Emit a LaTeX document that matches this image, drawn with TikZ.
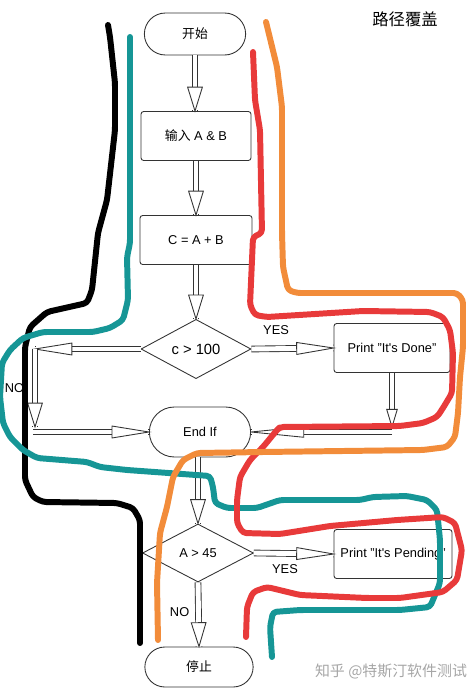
\documentclass[tikz,border=0pt]{standalone}
\usepackage{fontspec}
\setmainfont{Liberation Sans}
\newfontfamily\cjk{Noto Sans CJK SC}
\usetikzlibrary{positioning,shapes.geometric,shapes.misc,decorations.markings}

\definecolor{penteal}{RGB}{22,150,150}
\definecolor{penred}{RGB}{232,58,58}
\definecolor{penorange}{RGB}{242,140,58}

\begin{document}
\begin{tikzpicture}[
  x=0.02cm, y=-0.02cm,
  font=\fontsize{7.3}{9}\selectfont,
  box/.style={draw=black!80, line width=0.5pt, rounded corners=1.5pt,
              minimum width=2.2cm, minimum height=0.98cm, inner sep=1pt},
  term/.style={draw=black!80, line width=0.5pt, rounded rectangle,
               minimum width=2.26cm, minimum height=0.84cm},
  cond/.style={draw=black!80, line width=0.5pt, diamond, inner sep=0pt,
               minimum width=2.2cm, minimum height=1.12cm},
  blk/.style 2 args={draw=black!80, line width=0.5pt, double,
    double distance=2.8pt,
    postaction={decorate, decoration={markings, mark=at position 1 with
      {\fill[white] (-#1,-2.3pt) rectangle (-0.4pt,2.3pt);
       \draw[black!80, line width=0.5pt, fill=white]
         (0,0) -- (-#1,#2) -- (-#1,-#2) -- cycle;}}}},
  vblk/.style={blk={13.6pt}{4.2pt}},
  hblk/.style={blk={21pt}{3.4pt}},
  lb/.style={inner sep=1pt},
  pen/.style={line width=3.4pt, line cap=round, line join=round,
              rounded corners=2pt},
]
\useasboundingbox (0,0) rectangle (474,693);

% flow chart
\node[term] (start) at (195,34) {{\cjk 开始}};
\node[box] (inp) at (196,136) {{\cjk 输入} A \& B};
\node[box, minimum width=2.24cm] (calc) at (196,240) {C = A + B};
\node[cond, font=\fontsize{8.4}{10}\selectfont] (condA) at (196,349) {c > 100};
\node[box, minimum width=2.32cm] (done) at (392,348)
     {Print "It\textquotesingle s Done"};
\node[term, minimum height=1cm] (endif) at (200,432) {End If};
\node[cond, minimum width=2.22cm, minimum height=1.16cm] (condB) at (198,553)
     {A > 45};
\node[box, minimum width=2.36cm] (pend) at (393,554)
     {Print "It\textquotesingle s Pending"};
\node[term, minimum width=2.4cm, minimum height=0.8cm] (stop) at (199,667)
     {{\cjk 停止}};

\coordinate (noA) at (35,349);
\coordinate (noB) at (35,427);
\coordinate (noC) at (33,432);
\coordinate (yesA) at (392,427);
\coordinate (yesB) at (392,432);

\draw[vblk] (start.south) -- (start.south |- inp.north);
\draw[vblk] (inp.south) -- (inp.south |- calc.north);
\draw[vblk] (calc.south) -- (condA.north);
\draw[hblk] (condA.west) -- (noA);
\draw[vblk] (noA) -- node[lb, left=5pt] {NO} (noB);
\draw[hblk] (noC) -- (endif.west);
\draw[hblk] (condA.east) -- node[lb, above=7pt, pos=0.3] {YES} (done.west);
\draw[blk={10pt}{3pt}] (done.south) -- (yesA);
\draw[blk={30pt}{3pt}] (yesB) -- (endif.east);
\draw[vblk] (condB.north |- endif.south) -- (condB.north);
\draw[hblk] (condB.east) -- node[lb, below=5pt, pos=0.39] {YES} (pend.west);
\draw[vblk] (condB.south) -- node[lb, left=4pt, pos=0.46] {NO} (stop.north);

\node[font=\fontsize{9.3}{11}\selectfont\cjk] (title) at (405,19) {路径覆盖};
\node[font=\fontsize{8.5}{10}\selectfont\cjk, text=black!35] (wmark) at (391,672)
     {知乎 @特斯汀软件测试};

% hand drawn paths
\draw[pen, black] (108,25) -- (110,37) -- (115,83) -- (115,130) -- (107,200)
  -- (98,233) -- (92,290) -- (87,303) -- (47,312) -- (30,327) -- (25,347)
  -- (25,480) -- (33,497) -- (43,502) -- (117,503) -- (133,508) -- (140,520)
  -- (140,643);
\draw[pen, penteal] (130,37) -- (130,243) -- (127,257) -- (128,300)
  -- (123,320) -- (110,328) -- (93,332) -- (43,332) -- (23,338) -- (10,350)
  -- (2,363) -- (0,397) -- (3,423) -- (10,437) -- (23,450) -- (37,458)
  -- (87,462) -- (100,467) -- (127,470) -- (210,476) -- (213,487)
  -- (215,503) -- (227,508) -- (257,508) -- (280,500) -- (360,500)
  -- (373,497) -- (407,496) -- (427,500) -- (437,510) -- (440,540)
  -- (440,583) -- (430,607) -- (400,610) -- (300,610) -- (273,612)
  -- (270,627) -- (272,657);
\draw[pen, penred] (253,52) -- (255,100) -- (260,130) -- (262,233)
  -- (253,237) -- (252,260) -- (250,305) -- (255,315) -- (267,317)
  -- (363,311) -- (430,312) -- (443,317) -- (450,330) -- (453,353)
  -- (452,393) -- (443,408) -- (437,417) -- (423,423) -- (400,426)
  -- (280,427) -- (277,430) -- (263,447) -- (250,460) -- (240,477)
  -- (237,500) -- (237,523) -- (243,533) -- (280,534) -- (330,526)
  -- (397,520) -- (443,517) -- (455,523) -- (462,550) -- (457,580)
  -- (443,592) -- (400,598) -- (367,598) -- (300,595) -- (267,587)
  -- (253,592) -- (247,607) -- (246,637);
\draw[pen, penorange] (266,22) -- (277,67) -- (282,107) -- (282,233)
  -- (283,267) -- (288,290) -- (297,293) -- (457,293) -- (463,300)
  -- (463,347) -- (460,377) -- (458,413) -- (455,437) -- (447,447)
  -- (423,450) -- (263,452) -- (197,453) -- (183,460) -- (173,477)
  -- (167,507) -- (160,533) -- (157,583) -- (158,640);

\end{tikzpicture}
\end{document}
